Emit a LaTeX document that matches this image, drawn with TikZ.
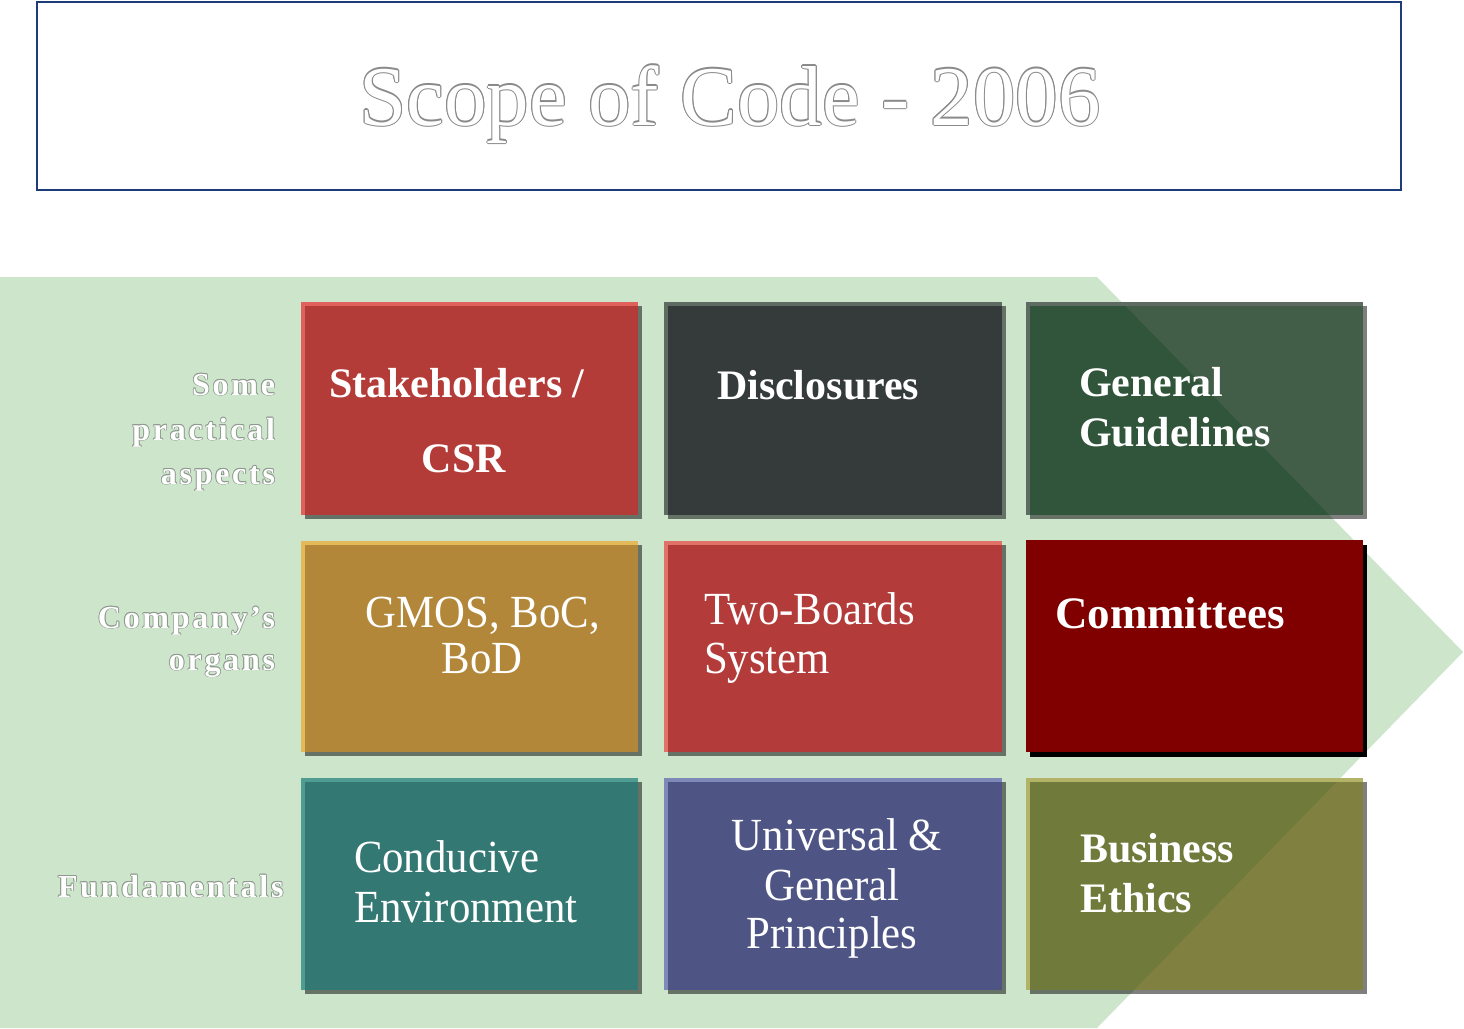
\documentclass[tikz,border=0pt]{standalone}
\usepackage{fontspec}
\setmainfont{Liberation Serif}
\newfontfamily\lblfont[LetterSpace=8.5]{Liberation Serif}
\definecolor{arrowgreen}{HTML}{CCE5CB}
\definecolor{titleblue}{HTML}{1F3C7A}
\definecolor{titleout}{HTML}{8A8A8A}
\definecolor{lblout}{HTML}{8F9A8F}
\definecolor{shlight}{HTML}{E0605C}
\definecolor{shmain}{HTML}{B33B38}
\definecolor{dslight}{HTML}{5E6B62}
\definecolor{dsmain}{HTML}{353A3B}
\definecolor{gglight}{HTML}{5E6B62}
\definecolor{ggout}{HTML}{425E48}
\definecolor{ggin}{HTML}{31553A}
\definecolor{gmlight}{HTML}{E3B95A}
\definecolor{gmmain}{HTML}{B2873A}
\definecolor{tblight}{HTML}{E07268}
\definecolor{tbmain}{HTML}{B33C3B}
\definecolor{cmmain}{HTML}{800000}
\definecolor{cdlight}{HTML}{4F9C93}
\definecolor{cdmain}{HTML}{337873}
\definecolor{unlight}{HTML}{7F89B8}
\definecolor{unmain}{HTML}{4E5585}
\definecolor{belight}{HTML}{B3B368}
\definecolor{beout}{HTML}{808040}
\definecolor{bein}{HTML}{6F7A3B}
% outlined text: #1 name, #2 style, #3 anchor, #4 x, #5 y, #6 text, #7 outline colour, #8 offset
\newcommand\olabel[8]{%
  \foreach \dx/\dy [count=\k] in {-1/0,1/0,0/-1,0/1,-0.7/-0.7,0.7/-0.7,-0.7/0.7,0.7/0.7}
    {\node[#2, anchor=#3, text=#7] (#1o\k) at (#4+#8*\dx, #5+#8*\dy) {#6};}
  \node[#2, anchor=#3] (#1) at (#4,#5) {#6};}
\newcommand\cond[1]{\scalebox{0.93}[1]{#1}}
\newcommand\arrowpath{(0,277) -- (1097,277) -- (1463,652) -- (1097,1028) -- (0,1028) -- cycle}
\newcommand\cellbox[6]{%
  \fill[black, fill opacity=0.5] (#1+4,#2+4) rectangle (#3+4,#4+4);
  \fill[#5] (#1,#2) rectangle (#3,#4);
  \fill[#6] (#1+4,#2+4) rectangle (#3,#4);
}
\begin{document}
\begin{tikzpicture}[x=1pt, y=-1pt,
  every node/.style={inner sep=0pt, outer sep=0pt, text=white},
  boldtxt/.style={font=\fontsize{42}{50}\selectfont\bfseries},
  bigbold/.style={font=\fontsize{45}{50}\selectfont\bfseries},
  regtxt/.style={font=\fontsize{46}{50}\selectfont},
  lbltxt/.style={font=\lblfont\bfseries\fontsize{32}{40}\selectfont},
  titletxt/.style={font=\fontsize{85}{90}\selectfont}]
\useasboundingbox (0,0) rectangle (1464,1028);
\fill[white] (0,0) rectangle (1464,1028);

% title box
\node (titlebox) [draw=titleblue, line width=2.2pt, minimum width=1364pt, minimum height=188pt] at (719,96) {};
\olabel{title}{titletxt}{base}{730}{125}{Scope of Code - 2006}{titleout}{1.1}

% green arrow
\fill[arrowgreen] \arrowpath;

% row 1
\cellbox{301}{302}{638}{515}{shlight}{shmain}
\cellbox{664}{302}{1002}{515}{dslight}{dsmain}
\cellbox{1026}{302}{1363}{515}{gglight}{ggout}
\begin{scope}
  \clip \arrowpath;
  \fill[ggin] (1030,306) rectangle (1363,515);
\end{scope}
% row 2
\cellbox{301}{541}{638}{752}{gmlight}{gmmain}
\cellbox{664}{541}{1002}{752}{tblight}{tbmain}
\fill[black] (1030,545) rectangle (1367,757);
\fill[cmmain] (1026,540) rectangle (1363,752);
% row 3
\cellbox{301}{778}{638}{990}{cdlight}{cdmain}
\cellbox{664}{778}{1002}{990}{unlight}{unmain}
\cellbox{1026}{778}{1363}{990}{belight}{beout}
\begin{scope}
  \clip \arrowpath;
  \fill[bein] (1030,782) rectangle (1363,990);
\end{scope}

% box texts
\node[boldtxt, anchor=base west] (t11a) at (329,397) {Stakeholders /};
\node[boldtxt, anchor=base] (t11b) at (464,472) {CSR};
\node[boldtxt, anchor=base west] (t12) at (717,399) {Disclosures};
\node[boldtxt, anchor=base west] (t13a) at (1079,396) {General};
\node[boldtxt, anchor=base west] (t13b) at (1079,446) {Guidelines};
\node[regtxt, anchor=base] (t21a) at (483,627) {\cond{GMOS, BoC,}};
\node[regtxt, anchor=base] (t21b) at (482,673) {\cond{BoD}};
\node[regtxt, anchor=base west] (t22a) at (704,624) {\cond{Two-Boards}};
\node[regtxt, anchor=base west] (t22b) at (704,673) {\cond{System}};
\node[bigbold, anchor=base west] (t23) at (1055,628) {Committees};
\node[regtxt, anchor=base west] (t31a) at (354,872) {\cond{Conducive}};
\node[regtxt, anchor=base west] (t31b) at (354,922) {\cond{Environment}};
\node[regtxt, anchor=base] (t32a) at (837,850) {\cond{Universal \&}};
\node[regtxt, anchor=base] (t32b) at (832,900) {\cond{General}};
\node[regtxt, anchor=base] (t32c) at (832,948) {\cond{Principles}};
\node[boldtxt, anchor=base west] (t33a) at (1080,862) {Business};
\node[boldtxt, anchor=base west] (t33b) at (1080,912) {Ethics};

% row labels
\olabel{l1a}{lbltxt}{base east}{275}{395}{Some}{lblout}{0.8}
\olabel{l1b}{lbltxt}{base east}{275}{440}{practical}{lblout}{0.8}
\olabel{l1c}{lbltxt}{base east}{275}{484}{aspects}{lblout}{0.8}
\olabel{l2a}{lbltxt}{base east}{275}{628}{Company’s}{lblout}{0.8}
\olabel{l2b}{lbltxt}{base east}{275}{670}{organs}{lblout}{0.8}
\olabel{l3}{lbltxt}{base west}{58}{897}{Fundamentals}{lblout}{0.8}
\end{tikzpicture}
\end{document}
